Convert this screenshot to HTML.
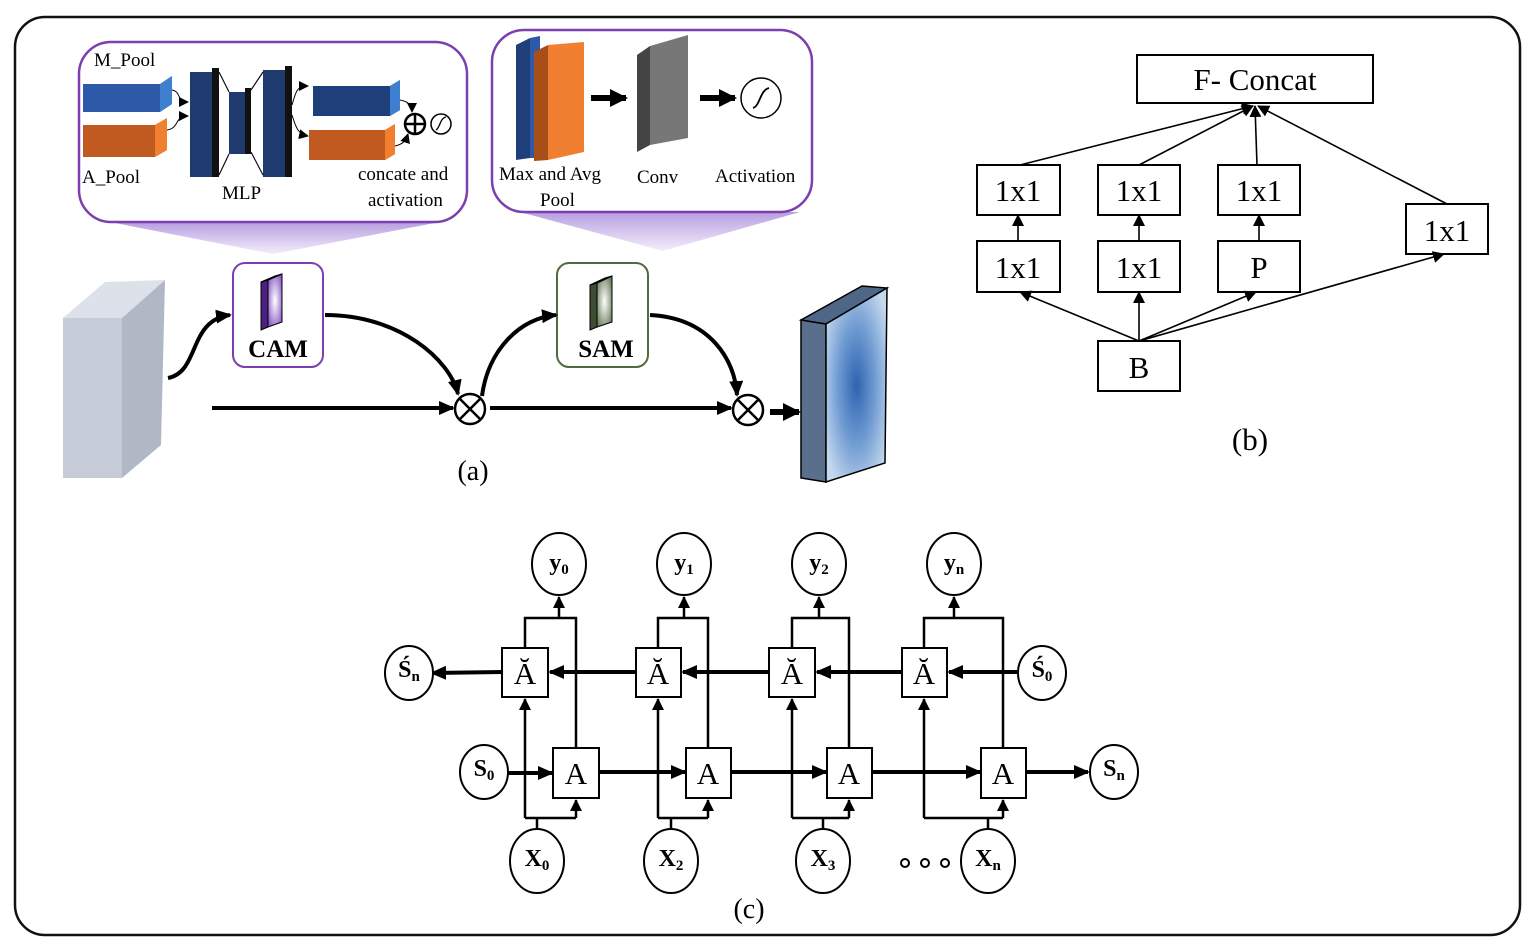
<!DOCTYPE html>
<html><head><meta charset="utf-8"><style>
html,body{margin:0;padding:0;background:#fff}
svg{display:block}
text{font-family:"Liberation Serif",serif;fill:#000}
</style></head><body>
<svg width="1524" height="938" viewBox="0 0 1524 938" xmlns="http://www.w3.org/2000/svg">
<defs>
<marker id="ah" markerWidth="10" markerHeight="10" refX="9" refY="5" orient="auto" markerUnits="userSpaceOnUse"><path d="M0,0 L10,5 L0,10 z" fill="#000"/></marker>
<marker id="ahb" markerWidth="16" markerHeight="14" refX="14" refY="7" orient="auto" markerUnits="userSpaceOnUse"><path d="M0,0 L16,7 L0,14 z" fill="#000"/></marker>
<marker id="ahx" markerWidth="18" markerHeight="18" refX="16" refY="9" orient="auto" markerUnits="userSpaceOnUse"><path d="M0,0 L18,9 L0,18 z" fill="#000"/></marker>
<marker id="ahs" markerWidth="12" markerHeight="12" refX="11" refY="6" orient="auto" markerUnits="userSpaceOnUse"><path d="M0,0 L12,6 L0,12 z" fill="#000"/></marker>
<linearGradient id="tri" x1="0" y1="0" x2="0" y2="1"><stop offset="0" stop-color="#b89ee0"/><stop offset="1" stop-color="#f3eefb"/></linearGradient>
<radialGradient id="blu" cx="0.5" cy="0.5" r="0.6"><stop offset="0" stop-color="#2d63b0"/><stop offset="0.5" stop-color="#6f9bd2"/><stop offset="1" stop-color="#c4d8ee"/></radialGradient>
<radialGradient id="pur" cx="0.5" cy="0.5" r="0.6"><stop offset="0" stop-color="#fff"/><stop offset="1" stop-color="#8a5cc6"/></radialGradient>
<radialGradient id="grn" cx="0.5" cy="0.5" r="0.6"><stop offset="0" stop-color="#fff"/><stop offset="1" stop-color="#6b7f5e"/></radialGradient>
</defs>
<rect x="15" y="17" width="1505" height="918" rx="30" fill="none" stroke="#111" stroke-width="2.5"/>

<polygon points="110,222 440,222 273,254" fill="url(#tri)"/>
<polygon points="520,212 800,212 663,251" fill="url(#tri)"/>
<rect x="79" y="42" width="388" height="180" rx="32" fill="#fff" stroke="#7b3fb0" stroke-width="2.5"/>
<rect x="492" y="30" width="320" height="182" rx="32" fill="#fff" stroke="#7b3fb0" stroke-width="2.5"/>

<text x="94" y="66" font-size="19">M_Pool</text>
<polygon points="83,84 160,84 172,76 172,104 160,112 83,112" fill="#2c5aa8"/>
<polygon points="160,84 172,76 172,104 160,112" fill="#3f7fd0"/>
<polygon points="83,125 155,125 167,118 167,150 155,157 83,157" fill="#c05a20"/>
<polygon points="155,125 167,118 167,150 155,157" fill="#f08030"/>
<text x="82" y="183" font-size="19">A_Pool</text>
<rect x="190" y="72" width="22" height="105" fill="#1f3a6e"/><rect x="212" y="68" width="7" height="109" fill="#111"/>
<rect x="229" y="92" width="16" height="62" fill="#1f3a6e"/><rect x="245" y="88" width="6" height="66" fill="#111"/>
<rect x="263" y="70" width="22" height="107" fill="#1f3a6e"/><rect x="285" y="66" width="7" height="111" fill="#111"/>
<path d="M219,72 L229,92 M219,175 L229,154 M251,90 L263,72 M251,152 L263,175" stroke="#111" stroke-width="1.2" fill="none"/>
<path d="M172,90 C182,92 176,102 188,102" stroke="#000" fill="none" marker-end="url(#ah)"/>
<path d="M167,130 C180,128 174,116 188,116" stroke="#000" fill="none" marker-end="url(#ah)"/>
<path d="M292,105 C296,92 296,86 308,86" stroke="#000" fill="none" marker-end="url(#ah)"/>
<path d="M292,115 C296,128 298,134 308,136" stroke="#000" fill="none" marker-end="url(#ah)"/>
<polygon points="313,86 390,86 400,80 400,110 390,116 313,116" fill="#1f3f7a"/>
<polygon points="390,86 400,80 400,110 390,116" fill="#3f7fd0"/>
<polygon points="309,130 385,130 395,124 395,154 385,160 309,160" fill="#c05a20"/>
<polygon points="385,130 395,124 395,154 385,160" fill="#f08030"/>
<path d="M400,100 C410,102 412,106 412,112" stroke="#000" fill="none" marker-end="url(#ah)"/>
<path d="M395,146 C404,144 406,140 408,134" stroke="#000" fill="none" marker-end="url(#ah)"/>
<circle cx="415" cy="124" r="10" fill="#fff" stroke="#000" stroke-width="2.5"/>
<path d="M405,124 H425 M415,114 V134" stroke="#000" stroke-width="2.5"/>
<circle cx="441" cy="124" r="10" fill="#fff" stroke="#000" stroke-width="1.5"/>
<path d="M436,130 C440,128 440,118 446,117" stroke="#000" fill="none" stroke-width="1.3"/>
<text x="222" y="199" font-size="19">MLP</text>
<text x="358" y="180" font-size="19">concate and</text>
<text x="368" y="206" font-size="19">activation</text>

<polygon points="516,45 530,38 530,158 516,160" fill="#1f3f7a"/>
<polygon points="530,38 540,36 540,158 530,158" fill="#2c5aa8"/>
<polygon points="534,52 548,45 548,160 534,161" fill="#a84e18"/>
<polygon points="548,45 584,42 584,152 548,160" fill="#f08030"/>
<line x1="591" y1="98" x2="626" y2="98" stroke="#000" stroke-width="6" marker-end="url(#ahx)"/>
<polygon points="637,55 650,46 650,145 637,152" fill="#444"/>
<polygon points="650,46 688,35 688,138 650,145" fill="#777"/>
<line x1="700" y1="98" x2="735" y2="98" stroke="#000" stroke-width="6" marker-end="url(#ahx)"/>
<circle cx="761" cy="98" r="20" fill="#fff" stroke="#000" stroke-width="1.5"/>
<path d="M753,108 C760,106 760,90 769,88" stroke="#000" fill="none" stroke-width="1.8"/>
<text x="499" y="180" font-size="19">Max and Avg</text>
<text x="540" y="206" font-size="19">Pool</text>
<text x="637" y="183" font-size="19">Conv</text>
<text x="715" y="182" font-size="19">Activation</text>

<rect x="233" y="263" width="90" height="104" rx="12" fill="#fff" stroke="#7b3fb0" stroke-width="2"/>
<polygon points="261,282 268,280 268,327 261,330" fill="#4a2080" stroke="#000"/>
<polygon points="268,280 282,274 282,322 268,327" fill="url(#pur)" stroke="#000"/>
<polygon points="261,282 275,276 282,274 268,280" fill="#6a40a0" stroke="#000"/>
<text x="278" y="357" font-size="25" font-weight="bold" text-anchor="middle">CAM</text>
<rect x="557" y="263" width="91" height="104" rx="12" fill="#fff" stroke="#4f6b3f" stroke-width="2"/>
<polygon points="590,285 597,283 597,327 590,330" fill="#3d4d33" stroke="#000"/>
<polygon points="597,283 612,276 612,322 597,327" fill="url(#grn)" stroke="#000"/>
<polygon points="590,285 605,278 612,276 597,283" fill="#5a6d4c" stroke="#000"/>
<text x="606" y="357" font-size="25" font-weight="bold" text-anchor="middle">SAM</text>

<polygon points="63,318 122,318 122,478 63,478" fill="#c5ccd8"/>
<polygon points="63,318 105,282 165,280 122,318" fill="#dde2ea"/>
<polygon points="122,318 165,280 161,445 122,478" fill="#b0b8c6"/>
<polygon points="801,320 826,324 826,482 801,478" fill="#5a6f8c" stroke="#000" stroke-width="1.5"/>
<polygon points="801,320 862,286 887,288 826,324" fill="#4e6788" stroke="#000" stroke-width="1.5"/>
<polygon points="826,324 887,288 885,463 826,482" fill="url(#blu)" stroke="#000" stroke-width="1.5"/>

<line x1="212" y1="408" x2="453" y2="408" stroke="#000" stroke-width="4" marker-end="url(#ahb)"/>
<circle cx="470" cy="409" r="15" fill="#fff" stroke="#000" stroke-width="2.5"/>
<path d="M459,398 L481,420 M481,398 L459,420" stroke="#000" stroke-width="2.5"/>
<line x1="490" y1="408" x2="731" y2="408" stroke="#000" stroke-width="4" marker-end="url(#ahb)"/>
<circle cx="748" cy="410" r="15" fill="#fff" stroke="#000" stroke-width="2.5"/>
<path d="M737,399 L759,421 M759,399 L737,421" stroke="#000" stroke-width="2.5"/>
<line x1="770" y1="412" x2="799" y2="412" stroke="#000" stroke-width="6" marker-end="url(#ahx)"/>
<path d="M168,378 C200,372 188,320 230,315" stroke="#000" stroke-width="4" fill="none" marker-end="url(#ahb)"/>
<path d="M325,315 C400,315 450,360 458,394" stroke="#000" stroke-width="4" fill="none" marker-end="url(#ahb)"/>
<path d="M482,396 C488,350 520,318 556,315" stroke="#000" stroke-width="4" fill="none" marker-end="url(#ahb)"/>
<path d="M650,315 C710,318 735,360 737,395" stroke="#000" stroke-width="4" fill="none" marker-end="url(#ahb)"/>
<text x="473" y="480" font-size="28" text-anchor="middle">(a)</text>

<g stroke="#000" stroke-width="2" fill="#fff">
<rect x="1137" y="55" width="236" height="48"/>
<rect x="977" y="165" width="83" height="50"/><rect x="1098" y="165" width="82" height="50"/><rect x="1218" y="165" width="82" height="50"/>
<rect x="977" y="241" width="83" height="51"/><rect x="1098" y="241" width="82" height="51"/><rect x="1218" y="241" width="82" height="51"/>
<rect x="1406" y="204" width="82" height="50"/>
<rect x="1098" y="341" width="82" height="50"/>
</g>
<g font-size="31" text-anchor="middle">
<text x="1255" y="90">F- Concat</text>
<text x="1018" y="201">1x1</text><text x="1139" y="201">1x1</text><text x="1259" y="201">1x1</text>
<text x="1018" y="278">1x1</text><text x="1139" y="278">1x1</text><text x="1259" y="278">P</text>
<text x="1447" y="241">1x1</text><text x="1139" y="378">B</text>
<text x="1250" y="450">(b)</text>
</g>
<g stroke="#000" stroke-width="1.6" marker-end="url(#ahs)">
<line x1="1139" y1="341" x2="1020" y2="292"/>
<line x1="1139" y1="341" x2="1139" y2="292"/>
<line x1="1139" y1="341" x2="1256" y2="292"/>
<line x1="1139" y1="341" x2="1444" y2="254"/>
<line x1="1018" y1="241" x2="1018" y2="215"/>
<line x1="1139" y1="241" x2="1139" y2="215"/>
<line x1="1259" y1="241" x2="1259" y2="215"/>
<line x1="1020" y1="165" x2="1253" y2="106"/>
<line x1="1139" y1="165" x2="1253" y2="106"/>
<line x1="1257" y1="165" x2="1255" y2="106"/>
<line x1="1447" y1="204" x2="1258" y2="106"/>
</g>

<g stroke="#000" stroke-width="2.5" fill="none">
<path d="M537,828 V818 H525 M537,818 H576"/><line x1="525" y1="818" x2="525" y2="699" marker-end="url(#ahs)"/><line x1="576" y1="818" x2="576" y2="800" marker-end="url(#ahs)"/>
<path d="M576,748 V618 H525 V648"/><line x1="559" y1="618" x2="559" y2="597" marker-end="url(#ahs)"/>
<path d="M671,828 V818 H658 M671,818 H708"/><line x1="658" y1="818" x2="658" y2="699" marker-end="url(#ahs)"/><line x1="708" y1="818" x2="708" y2="800" marker-end="url(#ahs)"/>
<path d="M708,748 V618 H658 V648"/><line x1="684" y1="618" x2="684" y2="597" marker-end="url(#ahs)"/>
<path d="M823,828 V818 H792 M823,818 H849"/><line x1="792" y1="818" x2="792" y2="699" marker-end="url(#ahs)"/><line x1="849" y1="818" x2="849" y2="800" marker-end="url(#ahs)"/>
<path d="M849,748 V618 H792 V648"/><line x1="819" y1="618" x2="819" y2="597" marker-end="url(#ahs)"/>
<path d="M988,828 V818 H924 M988,818 H1003"/><line x1="924" y1="818" x2="924" y2="699" marker-end="url(#ahs)"/><line x1="1003" y1="818" x2="1003" y2="800" marker-end="url(#ahs)"/>
<path d="M1003,748 V618 H924 V648"/><line x1="954" y1="618" x2="954" y2="597" marker-end="url(#ahs)"/>
</g>
<g stroke="#000" stroke-width="4" marker-end="url(#ahb)">
<line x1="502" y1="672" x2="432" y2="673"/>
<line x1="636" y1="672" x2="550" y2="672"/>
<line x1="769" y1="672" x2="683" y2="672"/>
<line x1="902" y1="672" x2="817" y2="672"/>
<line x1="1017" y1="672" x2="949" y2="672"/>
<line x1="506" y1="773" x2="552" y2="773"/>
<line x1="600" y1="772" x2="685" y2="772"/>
<line x1="732" y1="772" x2="826" y2="772"/>
<line x1="873" y1="772" x2="980" y2="772"/>
<line x1="1027" y1="772" x2="1088" y2="772"/>
</g>
<g stroke="#000" stroke-width="2" fill="#fff">
<rect x="502" y="648" width="46" height="49"/><rect x="636" y="648" width="45" height="49"/><rect x="769" y="648" width="46" height="49"/><rect x="902" y="648" width="45" height="49"/>
<rect x="553" y="748" width="46" height="50"/><rect x="686" y="748" width="45" height="50"/><rect x="827" y="748" width="45" height="50"/><rect x="981" y="748" width="45" height="50"/>
<ellipse cx="559" cy="564" rx="27" ry="31"/><ellipse cx="684" cy="564" rx="27" ry="31"/><ellipse cx="819" cy="564" rx="27" ry="31"/><ellipse cx="954" cy="564" rx="27" ry="31"/>
<ellipse cx="409" cy="673" rx="24" ry="27"/><ellipse cx="1042" cy="673" rx="24" ry="27"/>
<ellipse cx="484" cy="772" rx="24" ry="27"/><ellipse cx="1114" cy="772" rx="24" ry="27"/>
<ellipse cx="537" cy="861" rx="27" ry="32"/><ellipse cx="671" cy="861" rx="27" ry="32"/><ellipse cx="823" cy="861" rx="27" ry="32"/><ellipse cx="988" cy="861" rx="27" ry="32"/>
</g>
<g font-size="31" text-anchor="middle">
<text x="525" y="684">Ă</text><text x="658" y="684">Ă</text><text x="792" y="684">Ă</text><text x="924" y="684">Ă</text>
<text x="576" y="784">A</text><text x="708" y="784">A</text><text x="849" y="784">A</text><text x="1003" y="784">A</text>
</g>
<g font-size="24" font-weight="bold" text-anchor="middle">
<text x="559" y="570">y<tspan font-size="15" dy="4">0</tspan></text>
<text x="684" y="570">y<tspan font-size="15" dy="4">1</tspan></text>
<text x="819" y="570">y<tspan font-size="15" dy="4">2</tspan></text>
<text x="954" y="570">y<tspan font-size="15" dy="4">n</tspan></text>
<text x="409" y="677">Ś<tspan font-size="15" dy="4">n</tspan></text>
<text x="1042" y="677">Ś<tspan font-size="15" dy="4">0</tspan></text>
<text x="484" y="776">S<tspan font-size="15" dy="4">0</tspan></text>
<text x="1114" y="776">S<tspan font-size="15" dy="4">n</tspan></text>
<text x="537" y="866">X<tspan font-size="15" dy="4">0</tspan></text>
<text x="671" y="866">X<tspan font-size="15" dy="4">2</tspan></text>
<text x="823" y="866">X<tspan font-size="15" dy="4">3</tspan></text>
<text x="988" y="866">X<tspan font-size="15" dy="4">n</tspan></text>
</g>
<g fill="none" stroke="#000" stroke-width="2"><circle cx="905" cy="863" r="4"/><circle cx="925" cy="863" r="4"/><circle cx="945" cy="863" r="4"/></g>
<text x="749" y="918" font-size="28" text-anchor="middle">(c)</text>
</svg>
</body></html>
